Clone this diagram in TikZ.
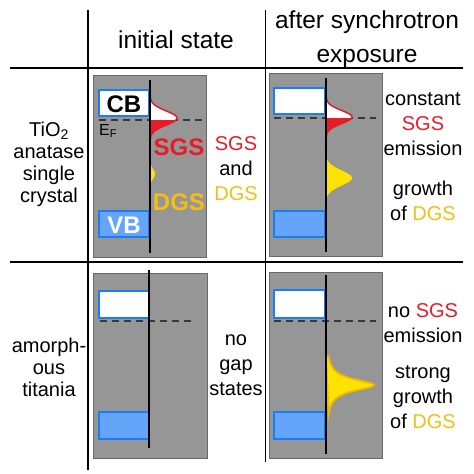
\documentclass[tikz,border=0pt]{standalone}
\usepackage{fontspec}
\setmainfont{Liberation Sans}
\definecolor{panelgray}{RGB}{150,150,150}
\definecolor{paneledge}{RGB}{105,105,105}
\definecolor{bandblue}{RGB}{25,125,245}
\definecolor{vbfill}{RGB}{100,165,250}
\definecolor{fermigray}{RGB}{55,55,55}
\definecolor{sgsred}{RGB}{232,28,40}
\definecolor{dgsgold}{RGB}{245,190,20}
\definecolor{dgsyellow}{RGB}{255,226,0}
\definecolor{dgsedge}{RGB}{238,185,0}
\begin{document}
\begin{tikzpicture}[x=1pt,y=-1pt,
  gridline/.style={line width=1.6pt, black},
  panel/.style={fill=panelgray, draw=paneledge, line width=0.8pt},
  axisline/.style={line width=2.4pt, black},
  cbbox/.style={draw=bandblue, fill=white, line width=2.8pt},
  vbbox/.style={draw=bandblue, fill=vbfill, line width=2.8pt},
  fermi/.style={draw=fermigray, line width=2pt, dash pattern=on 7pt off 5pt},
  sgsline/.style={draw=sgsred, line width=1.5pt},
  txt/.style={font=\fontsize{20}{22}\selectfont, anchor=base, inner sep=0pt},
  head/.style={font=\fontsize{24.5}{28}\selectfont, anchor=base, inner sep=0pt},
  bigbold/.style={font=\fontsize{24}{28}\selectfont\bfseries, anchor=base, inner sep=0pt},
]
\useasboundingbox (0,0) rectangle (474,474);

% grid
\draw[gridline] (88,10) -- (88,470);
\draw[gridline] (265.5,10) -- (265.5,462);
\draw[gridline] (10,68) -- (463,68);
\draw[gridline] (10,262) -- (463,262);

% headers
\node[head] (h1) at (176,48) {initial state};
\node[head] (h2a) at (367,28) {after synchrotron};
\node[head] (h2b) at (367,62) {exposure};

% row labels
\node[txt] (r1a) at (49,136) {TiO\textsubscript{2}};
\node[txt] (r1b) at (49,158) {anatase};
\node[txt] (r1c) at (49,180) {single};
\node[txt] (r1d) at (49,202) {crystal};
\node[txt] (r2a) at (49,352) {amorph-};
\node[txt] (r2b) at (49,374) {ous};
\node[txt] (r2c) at (49,396) {titania};

% ---------- panel 1 ----------
\draw[panel] (93,75) rectangle (206,257);
\draw[cbbox] (99,90) rectangle (149,116);
\draw[vbbox] (99,211) rectangle (149,237);
\node[bigbold] (cb1) at (124,112) {CB};
\node[bigbold, white] (vb1) at (124,233) {VB};
\draw[fermi] (99,120) -- (204,120);
\node[font=\fontsize{16}{18}\selectfont, anchor=base west, inner sep=0pt] (ef1) at (99,135) {E\textsubscript{F}};
\draw[sgsline, fill=white] (150,92) -- plot[domain=92:144,samples=80,variable=\t] ({150+27*exp(-((\t-118)^2)/(2*7^2))},\t) -- cycle;
\fill[sgsred] (150,120) -- plot[domain=120:144,samples=60,variable=\t] ({150+27*exp(-((\t-118)^2)/(2*7^2))},\t) -- cycle;
\fill[dgsyellow] (150,160) -- plot[domain=160:188,samples=50,variable=\t] ({150+5*exp(-((\t-174)^2)/(2*5^2))},\t) -- cycle;
\draw[axisline] (150,80) -- (150,253);
\node[bigbold, sgsred] (sgs1) at (179,155) {SGS};
\node[bigbold, dgsgold] (dgs1) at (179,210) {DGS};

% middle texts row 1
\node[txt, sgsred] (m1a) at (236,150) {SGS};
\node[txt] (m1b) at (236,175) {and};
\node[txt, dgsgold] (m1c) at (236,200) {DGS};

% ---------- panel 2 ----------
\draw[panel] (269,73) rectangle (382,256);
\draw[cbbox] (274,88) rectangle (325,114);
\draw[vbbox] (274,211) rectangle (325,237);
\draw[fermi] (274,118) -- (376,118);
\draw[sgsline, fill=white] (326,94) -- plot[domain=94:142,samples=80,variable=\t] ({326+26*exp(-((\t-117)^2)/(2*6.5^2))},\t) -- cycle;
\fill[sgsred] (326,118) -- plot[domain=118:142,samples=60,variable=\t] ({326+26*exp(-((\t-117)^2)/(2*6.5^2))},\t) -- cycle;
\fill[dgsyellow] (326,154) -- plot[domain=154:202,samples=80,variable=\t] ({326+26*exp(-((\t-178)^2)/(2*7.5^2))},\t) -- cycle;
\draw[axisline] (326,78) -- (326,252);

% right texts row 1
\node[txt] (t1a) at (423,105) {constant};
\node[txt, sgsred] (t1b) at (423,130) {SGS};
\node[txt] (t1c) at (423,155) {emission};
\node[txt] (t1d) at (423,195) {growth};
\node[txt] (t1e) at (423,220) {of \textcolor{dgsgold}{DGS}};

% ---------- panel 3 ----------
\draw[panel] (93,273) rectangle (207,458);
\draw[cbbox] (99,291) rectangle (149,318);
\draw[vbbox] (99,412) rectangle (149,439);
\draw[fermi] (100,321) -- (192,321);
\draw[axisline] (149,270) -- (149,448);

% middle texts row 2
\node[txt] (m2a) at (236,345) {no};
\node[txt] (m2b) at (236,370) {gap};
\node[txt] (m2c) at (236,395) {states};

% ---------- panel 4 ----------
\draw[panel] (269,272) rectangle (382,458);
\draw[cbbox] (274,290) rectangle (325,318);
\draw[vbbox] (274,412) rectangle (325,439);
\draw[fermi] (274,321) -- (376,321);
\draw[draw=dgsedge, fill=dgsyellow, line width=1.8pt] (326,356) -- plot[domain=356:414,samples=120,variable=\t] ({326+48/(1+((\t-385)/7)^2)},\t) -- cycle;
\draw[axisline] (326,275) -- (326,454);

% right texts row 2
\node[txt] (t2a) at (423,317) {no \textcolor{sgsred}{SGS}};
\node[txt] (t2b) at (423,342) {emission};
\node[txt] (t2c) at (423,378) {strong};
\node[txt] (t2d) at (423,403) {growth};
\node[txt] (t2e) at (423,428) {of \textcolor{dgsgold}{DGS}};
\end{tikzpicture}
\end{document}
